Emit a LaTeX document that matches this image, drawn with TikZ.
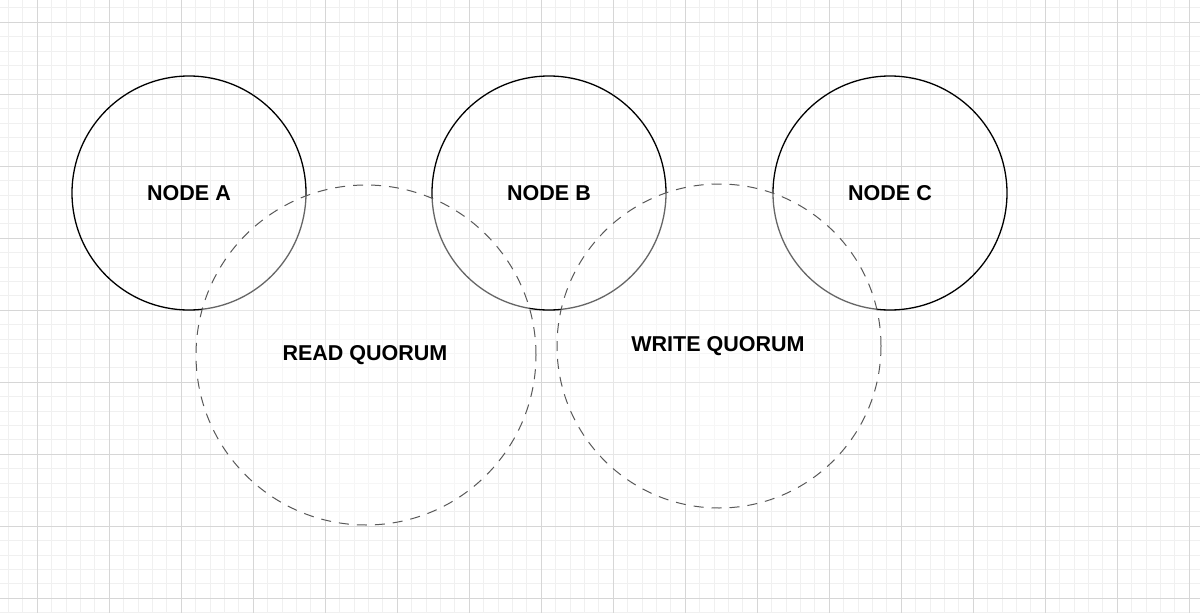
\documentclass[tikz,border=0pt]{standalone}
\usepackage{fontspec}
\setmainfont{Liberation Sans}
\begin{document}
\begin{tikzpicture}[x=1pt,y=-1pt,
  srv/.style={circle,draw=black,line width=1.3pt,minimum size=234pt,inner sep=0pt},
  quorum/.style={circle,draw=black!65,dash pattern=on 10pt off 8pt,line width=1pt,fill=white,fill opacity=0.4,text opacity=1,inner sep=0pt},
  lbl/.style={font=\bfseries\fontsize{21.5}{24}\selectfont}]
\useasboundingbox (0,0) rectangle (1200,613);
\fill[white] (0,0) rectangle (1200,613);
\foreach \i in {0,...,84} {
  \draw[black!6,line width=0.5pt] ({37+(\i-3)*14.4},0) -- ++(0,613);
}
\foreach \i in {0,...,43} {
  \draw[black!6,line width=0.5pt] (0,{22+(\i-1)*14.4}) -- ++(1200,0);
}
\foreach \i in {0,...,16} {
  \draw[black!16,line width=0.6pt] ({37+\i*72},0) -- ++(0,613);
}
\foreach \i in {0,...,8} {
  \draw[black!16,line width=0.6pt] (0,{22+\i*72}) -- ++(1200,0);
}
\node[srv] (a) at (189,193) {};
\node[srv] (b) at (549,193) {};
\node[srv] (c) at (890,193) {};
\node[quorum,minimum size=340pt] (r) at (366,355) {};
\node[quorum,minimum size=324pt] (w) at (719,346) {};
\node[lbl] (ta) at (a.center) {NODE A};
\node[lbl] (tb) at (b.center) {NODE B};
\node[lbl] (tc) at (c.center) {NODE C};
\node[lbl] (tr) at (365,355) {READ QUORUM};
\node[lbl] (tw) at (718,346) {WRITE QUORUM};
\end{tikzpicture}
\end{document}
